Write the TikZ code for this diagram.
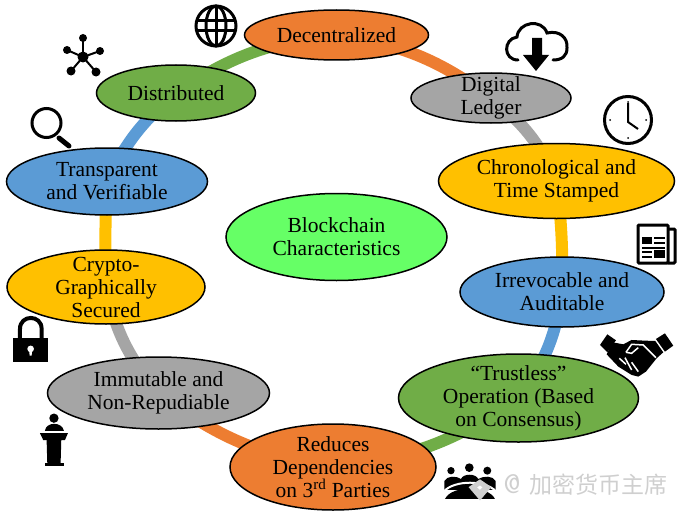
\documentclass[tikz,border=0pt]{standalone}
\usepackage{fontspec}
\setmainfont{Liberation Serif}
\newfontfamily\cjkfont{Noto Sans CJK SC}
\usetikzlibrary{shapes.geometric,backgrounds}
\definecolor{ringorange}{HTML}{ED7D31}
\definecolor{ringgreen}{HTML}{70AD47}
\definecolor{ringgray}{HTML}{A5A5A5}
\definecolor{ringyellow}{HTML}{FFC000}
\definecolor{ringblue}{HTML}{5B9BD5}
\definecolor{corefill}{HTML}{66FF66}
\definecolor{markgray}{HTML}{CFCFCF}
\tikzset{
	trait/.style n args={3}{ellipse, draw=black, line width=1.5pt, fill=#1, inner sep=-18pt, minimum width=#2, minimum height=#3, align=center, font=\fontsize{21.5}{23}\selectfont},
	link/.style={line width=12pt, color=#1},
	icon/.style={line width=3pt, draw=black},
}
\begin{document}
\begin{tikzpicture}[x=1pt,y=-1pt]
	\useasboundingbox (0,0) rectangle (677,511);
	\draw (336.5,35) node[trait={ringorange}{184pt}{50pt}] (decentral) {Decentralized};
	\draw (491,98) node[trait={ringgray}{160pt}{50pt}] (ledger) {Digital\\Ledger};
	\draw (556.5,181) node[trait={ringyellow}{236pt}{75pt}] (chrono) {Chronological and\\Time Stamped};
	\draw (562,292) node[trait={ringblue}{204pt}{70pt}] (irrevoc) {Irrevocable and\\Auditable};
	\draw (518.5,398) node[trait={ringgreen}{240pt}{88pt}] (trustless) {“Trustless”\\Operation (Based\\on Consensus)};
	\draw (333,467) node[trait={ringorange}{206pt}{86pt}] (reduces) {Reduces\\Dependencies\\on 3\textsuperscript{rd} Parties};
	\draw (158.5,393) node[trait={ringgray}{222pt}{72pt}] (immutable) {Immutable and\\Non-Repudiable};
	\draw (106,287) node[trait={ringyellow}{198pt}{74pt}] (crypto) {Crypto-\\Graphically\\Secured};
	\draw (107,181.5) node[trait={ringblue}{201pt}{67pt}] (transparent) {Transparent\\and Verifiable};
	\draw (176,93) node[trait={ringgreen}{159pt}{56pt}] (distributed) {Distributed};
	\draw (336.5,237) node[trait={corefill}{221pt}{87pt}] (core) {Blockchain\\Characteristics};

	\begin{scope}[on background layer]
		\draw[link=ringorange] (decentral.center) to [bend right=-14] (ledger.center);
		\draw[link=ringgray] (ledger.center) to [bend right=-14] (chrono.center);
		\draw[link=ringyellow] (chrono.center) to [bend right=-4] (irrevoc.center);
		\draw[link=ringblue] (irrevoc.center) to [bend right=-14] (trustless.center);
		\draw[link=ringgreen] (trustless.center) to [bend right=-14] (reduces.center);
		\draw[link=ringorange] (reduces.center) to [bend right=-14] (immutable.center);
		\draw[link=ringgray] (immutable.center) to [bend right=-14] (crypto.center);
		\draw[link=ringyellow] (crypto.center) to [bend right=-2] (transparent.center);
		\draw[link=ringblue] (transparent.center) to [bend right=-12] (distributed.center);
		\draw[link=ringgreen] (distributed.center) to [bend right=-14] (decentral.center);
	\end{scope}

	% globe
	\draw[icon] (216,26) circle (20);
	\draw[icon] (216,26) ellipse (10 and 20);
	\draw[icon] (216,6) -- (216,46) (197,21) -- (235,21) (197,31) -- (235,31);

	% hub
	\foreach \tipx/\tipy/\tipr in {83/38/4,100/51/4,96/72/4.5,71/71/4.5,67/50/4}{
		\draw[line width=2pt] (83,57) -- (\tipx,\tipy);
		\fill (\tipx,\tipy) circle (\tipr);
	}
	\fill (83,57) circle (5.5);

	% magnifier
	\draw[icon] (46.5,123) circle (14.5);
	\draw[line width=5pt, line cap=round] (59,138) -- (69,146);

	% cloud
	\draw[icon, line cap=round] (518,60) .. controls (503,60) and (503,39) .. (517,37) .. controls (518,22) and (542,18) .. (547,33) .. controls (560,30) and (568,38) .. (567,48) .. controls (567,56) and (562,60) .. (553,60);
	\fill (532,38) -- (542,38) -- (542,55) -- (549,55) -- (536,71) -- (523,55) -- (532,55) -- cycle;

	% clock
	\draw[icon] (628,120) circle (23.5);
	\draw[line width=2pt] (628,103) -- (628,122) -- (638,129);
	\foreach \dotx/\doty in {628/102,628/138,610/120,646/120}{
		\fill (\dotx,\doty) circle (1);
	}

	% newspaper
	\draw[line width=3pt, rounded corners=1pt] (668,229) -- (675,229) -- (675,263) -- (668,263);
	\draw[icon, rounded corners=1pt, fill=white] (638,225) rectangle (668,263);
	\fill (642,237) rectangle (652,244);
	\fill (654,250) rectangle (665,258);
	\draw[line width=1.5pt] (654,238) -- (665,238) (654,243) -- (665,243) (642,248) -- (665,248) (642,252) -- (652,252) (642,257) -- (652,257);

	% handshake
	\begin{scope}[shift={(590,325)},x=0.333pt,y=-0.333pt]
		\fill (30,60) -- (52,28) -- (78,46) -- (52,82) -- cycle;
		\fill (198,42) -- (225,25) -- (250,62) -- (225,80) -- cycle;
		\fill (68,52) -- (100,58) -- (125,45) -- (165,47) -- (196,48) -- (220,82) -- (200,100) -- (168,140) -- (145,155) -- (125,150) -- (85,125) -- (50,88) -- cycle;
		\draw[white, line width=1.5pt] (108,82) -- (125,58) -- (160,60) -- (198,98);
		\draw[white, line width=1.5pt] (108,82) -- (125,85) -- (145,68);
		\draw[white, line width=1.5pt] (88,100) -- (108,118) (105,98) -- (125,135) (125,112) -- (145,140);
	\end{scope}

	% crowd
	\begin{scope}[shift={(435,455)},x=0.333pt,y=-0.333pt]
		\fill (48,47) circle (11);
		\fill (103,38) circle (13);
		\fill (157,47) circle (12);
		\fill (28,105) -- (28,78) .. controls (35,62) and (65,62) .. (78,72) .. controls (85,55) and (122,55) .. (130,72) .. controls (145,62) and (175,62) .. (182,78) -- (182,105) -- cycle;
		\draw[white, line width=2pt] (28,108) .. controls (60,75) and (150,75) .. (182,108);
		\fill (30,132) .. controls (50,90) and (160,90) .. (180,132) -- cycle;
		\draw[markgray, line width=5pt, fill=white] (112,98) -- (135,82) -- (158,98) -- (135,125) -- cycle;
		\draw[markgray, line width=4pt] (120,100) -- (135,113) -- (152,96);
	\end{scope}

	% lock
	\begin{scope}[shift={(0,255)},x=0.333pt,y=-0.333pt]
		\draw[line width=4pt] (60,250) -- (60,222) .. controls (60,178) and (125,178) .. (125,222) -- (125,250);
		\fill (38,248) rectangle (145,320);
		\fill[white] (92,282) circle (10);
		\fill[white] (87,282) -- (97,282) -- (95,302) -- (89,302) -- cycle;
	\end{scope}

	% podium
	\begin{scope}[shift={(0,255)},x=0.333pt,y=-0.333pt]
		\fill (162,490) circle (14);
		\fill (135,528) .. controls (138,500) and (187,500) .. (192,528) -- cycle;
		\fill (120,535) -- (204,535) -- (195,556) -- (130,556) -- cycle;
		\fill (140,556) -- (184,556) -- (182,625) -- (142,625) -- cycle;
		\fill (135,625) rectangle (192,634);
	\end{scope}

	\draw (512,484) node[text=markgray, font=\fontsize{27}{27}\selectfont\sffamily] (handle) {@};
	\draw (598,485) node[text=markgray, font=\fontsize{23}{23}\selectfont\cjkfont] (masthead) {加密货币主席};
\end{tikzpicture}
\end{document}
